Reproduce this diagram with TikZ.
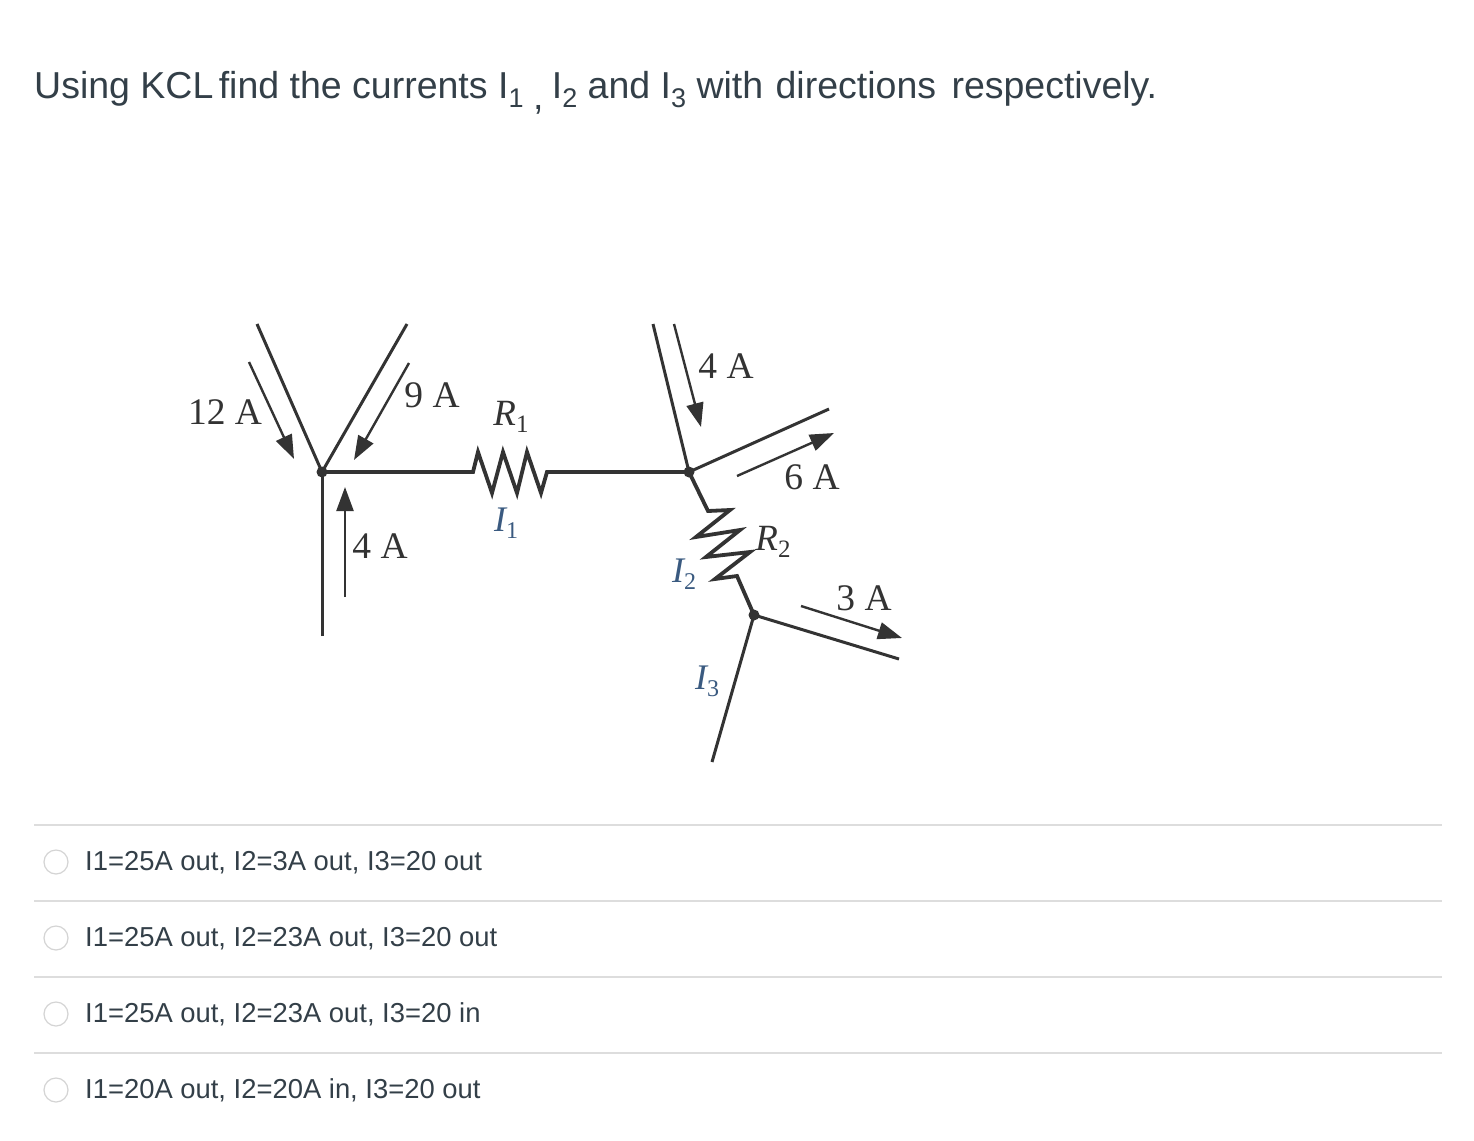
\documentclass[tikz,border=0pt]{standalone}
\usepackage{fontspec}
\setmainfont{Liberation Sans}
\newfontfamily\circfont[AutoFakeBold=0.5]{Liberation Serif}
\usetikzlibrary{arrows.meta}
\definecolor{ink}{HTML}{333F48}
\definecolor{wire}{HTML}{333333}
\definecolor{cur}{HTML}{3A5A80}
\definecolor{rulec}{HTML}{DDDDDD}
\definecolor{radio}{HTML}{D4D4D4}
\newcommand{\subs}[1]{\raisebox{-0.24em}{\fontsize{27}{27}\selectfont #1}}
\tikzset{
  x=1pt,y=-1pt,
  wireline/.style={draw=wire,line width=3pt,line join=miter},
  curarrow/.style={draw=wire,line width=2.4pt,-{Triangle[length=24pt,width=17pt]}},
  junction/.style={circle,fill=wire,inner sep=0pt,minimum size=11pt},
  title/.style={anchor=base west,inner sep=0pt,text=ink,font=\fontsize{37.5}{40}\selectfont},
  option/.style={anchor=base west,inner sep=0pt,text=ink,font=\fontsize{27.4}{32}\selectfont},
  radiobtn/.style={circle,draw=radio,fill=white,line width=1.2pt,minimum size=24pt,inner sep=0pt},
  sepline/.style={draw=rulec,line width=1.8pt},
  val/.style={inner sep=0pt,text=wire,font=\circfont\fontsize{37.5}{38}\selectfont},
  curlab/.style={inner sep=0pt,text=cur,font=\circfont\itshape\fontsize{36}{36}\selectfont},
  rlab/.style={inner sep=0pt,text=wire,font=\circfont\itshape\fontsize{37}{38}\selectfont},
}
\begin{document}
\begin{tikzpicture}
\useasboundingbox (0,0) rectangle (1474,1140);
\fill[white] (0,0) rectangle (1474,1140);
% question
\node[title] (q) at (34,98) {Using KCL\hspace{-5pt} find the currents I\subs{1}\hspace{-1pt} \raisebox{-0.3em}{,}\hspace{-2pt} I\subs{2} and I\subs{3} with\hspace{2pt} directions\hspace{5pt} respectively.};
% junctions
\node[junction] (A) at (322,472) {};
\node[junction] (B) at (689,472) {};
\node[junction] (C) at (754,615) {};
% free ends
\coordinate (a1) at (257,324);
\coordinate (a2) at (407,324);
\coordinate (a3) at (322,636);
\coordinate (b1) at (653,324);
\coordinate (b2) at (829,409);
\coordinate (c1) at (899,659);
\coordinate (c2) at (712,762);
\draw[wireline] (a1) -- (A.center);
\draw[wireline] (a2) -- (A.center);
\draw[wireline] (a3) -- (A.center);
\draw[wireline] (b1) -- (B.center);
\draw[wireline] (b2) -- (B.center);
\draw[wireline] (c1) -- (C.center);
\draw[wireline] (c2) -- (C.center);
% resistors
\draw[wireline,line width=3.8pt] (A.center) -- (473,472) -- (478,452) -- (492,493) -- (503,452) -- (517,493) -- (527,452) -- (541,493) -- (547,472) -- (B.center);
\draw[wireline,line width=3.8pt] (B.center) -- (708,511) -- (730,510) -- (696,537) -- (740,530) -- (706,557) -- (750,552) -- (715,579) -- (737,576) -- (C.center);
% current arrows
\coordinate (p1) at (249,362); \coordinate (q1) at (294,459);
\coordinate (p2) at (409,363); \coordinate (q2) at (354,460);
\coordinate (p3) at (345,597); \coordinate (q3) at (345,487);
\coordinate (p4) at (674,324); \coordinate (q4) at (701,427);
\coordinate (p5) at (737,476); \coordinate (q5) at (834,433);
\coordinate (p6) at (801,606); \coordinate (q6) at (902,638);
\draw[curarrow] (p1) -- (q1);
\draw[curarrow] (p2) -- (q2);
\draw[curarrow] (p3) -- (q3);
\draw[curarrow] (p4) -- (q4);
\draw[curarrow] (p5) -- (q5);
\draw[curarrow] (p6) -- (q6);
% labels
\node[val] (l12) at (225,412) {12 A};
\node[val] (l9) at (432,395) {9 A};
\node[val] (l4a) at (380,546) {4 A};
\node[val] (l4b) at (726,366) {4 A};
\node[val] (l6) at (812,477) {6 A};
\node[val] (l3) at (864,598) {3 A};
\node[rlab] (r1) at (511,417) {R\raisebox{-0.2em}{\upshape\fontsize{25}{25}\selectfont 1}};
\node[rlab] (r2) at (773,542) {R\raisebox{-0.2em}{\upshape\fontsize{25}{25}\selectfont 2}};
\node[curlab] (i1) at (506,523) {I\raisebox{-0.2em}{\upshape\fontsize{24}{24}\selectfont 1}};
\node[curlab] (i2) at (684,574) {I\raisebox{-0.2em}{\upshape\fontsize{24}{24}\selectfont 2}};
\node[curlab] (i3) at (707,681) {I\raisebox{-0.2em}{\upshape\fontsize{24}{24}\selectfont 3}};
% options
\coordinate (s1l) at (34,825);  \coordinate (s1r) at (1442,825);
\coordinate (s2l) at (34,901);  \coordinate (s2r) at (1442,901);
\coordinate (s3l) at (34,977);  \coordinate (s3r) at (1442,977);
\coordinate (s4l) at (34,1053); \coordinate (s4r) at (1442,1053);
\draw[sepline] (s1l) -- (s1r);
\draw[sepline] (s2l) -- (s2r);
\draw[sepline] (s3l) -- (s3r);
\draw[sepline] (s4l) -- (s4r);
\node[radiobtn] (o1) at (56,862) {};
\node[radiobtn] (o2) at (56,938) {};
\node[radiobtn] (o3) at (56,1014) {};
\node[radiobtn] (o4) at (56,1090) {};
\node[option] (t1) at (85,870) {I1=25A out, I2=3A out, I3=20 out};
\node[option] (t2) at (85,946) {I1=25A out, I2=23A out, I3=20 out};
\node[option] (t3) at (85,1022) {I1=25A out, I2=23A out, I3=20 in};
\node[option] (t4) at (85,1098) {I1=20A out, I2=20A in, I3=20 out};
\end{tikzpicture}
\end{document}
